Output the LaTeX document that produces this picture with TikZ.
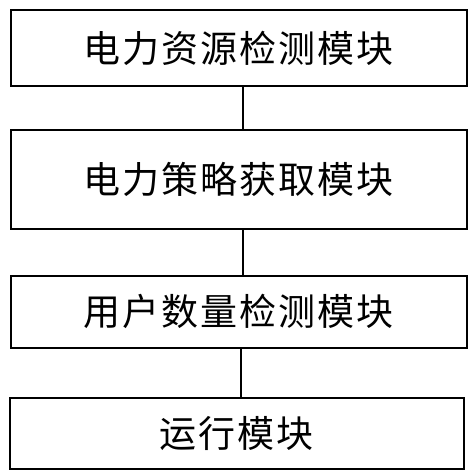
\documentclass[tikz,border=0pt]{standalone}
\usepackage{fontspec}
\newfontfamily\cjk{Noto Sans CJK SC}
\newcommand{\gap}{\hspace{2pt}}
\tikzset{
  modbox/.style={draw=black, line width=1.8pt, inner sep=0pt, font=\cjk\fontsize{37}{40}\selectfont, anchor=north west},
  link/.style={draw=black, line width=1.6pt}
}
\begin{document}
\begin{tikzpicture}[x=1pt,y=-1pt]
\useasboundingbox (0,0) rectangle (474,476);
\node[modbox, minimum width=456pt, minimum height=76pt] (a) at (10,9) {电\gap 力\gap 资\gap 源\gap 检\gap 测\gap 模\gap 块};
\node[modbox, minimum width=456pt, minimum height=99pt] (b) at (10,129) {电\gap 力\gap 策\gap 略\gap 获\gap 取\gap 模\gap 块};
\node[modbox, minimum width=456pt, minimum height=72pt] (c) at (10,275) {用\gap 户\gap 数\gap 量\gap 检\gap 测\gap 模\gap 块};
\node[modbox, minimum width=454pt, minimum height=71pt] (d) at (9,397) {运\gap 行\gap 模\gap 块};
\draw[link] (a.south -| 243,0) -- (b.north -| 243,0);
\draw[link] (b.south -| 243,0) -- (c.north -| 243,0);
\draw[link] (c.south -| 241,0) -- (d.north -| 241,0);
\end{tikzpicture}
\end{document}
